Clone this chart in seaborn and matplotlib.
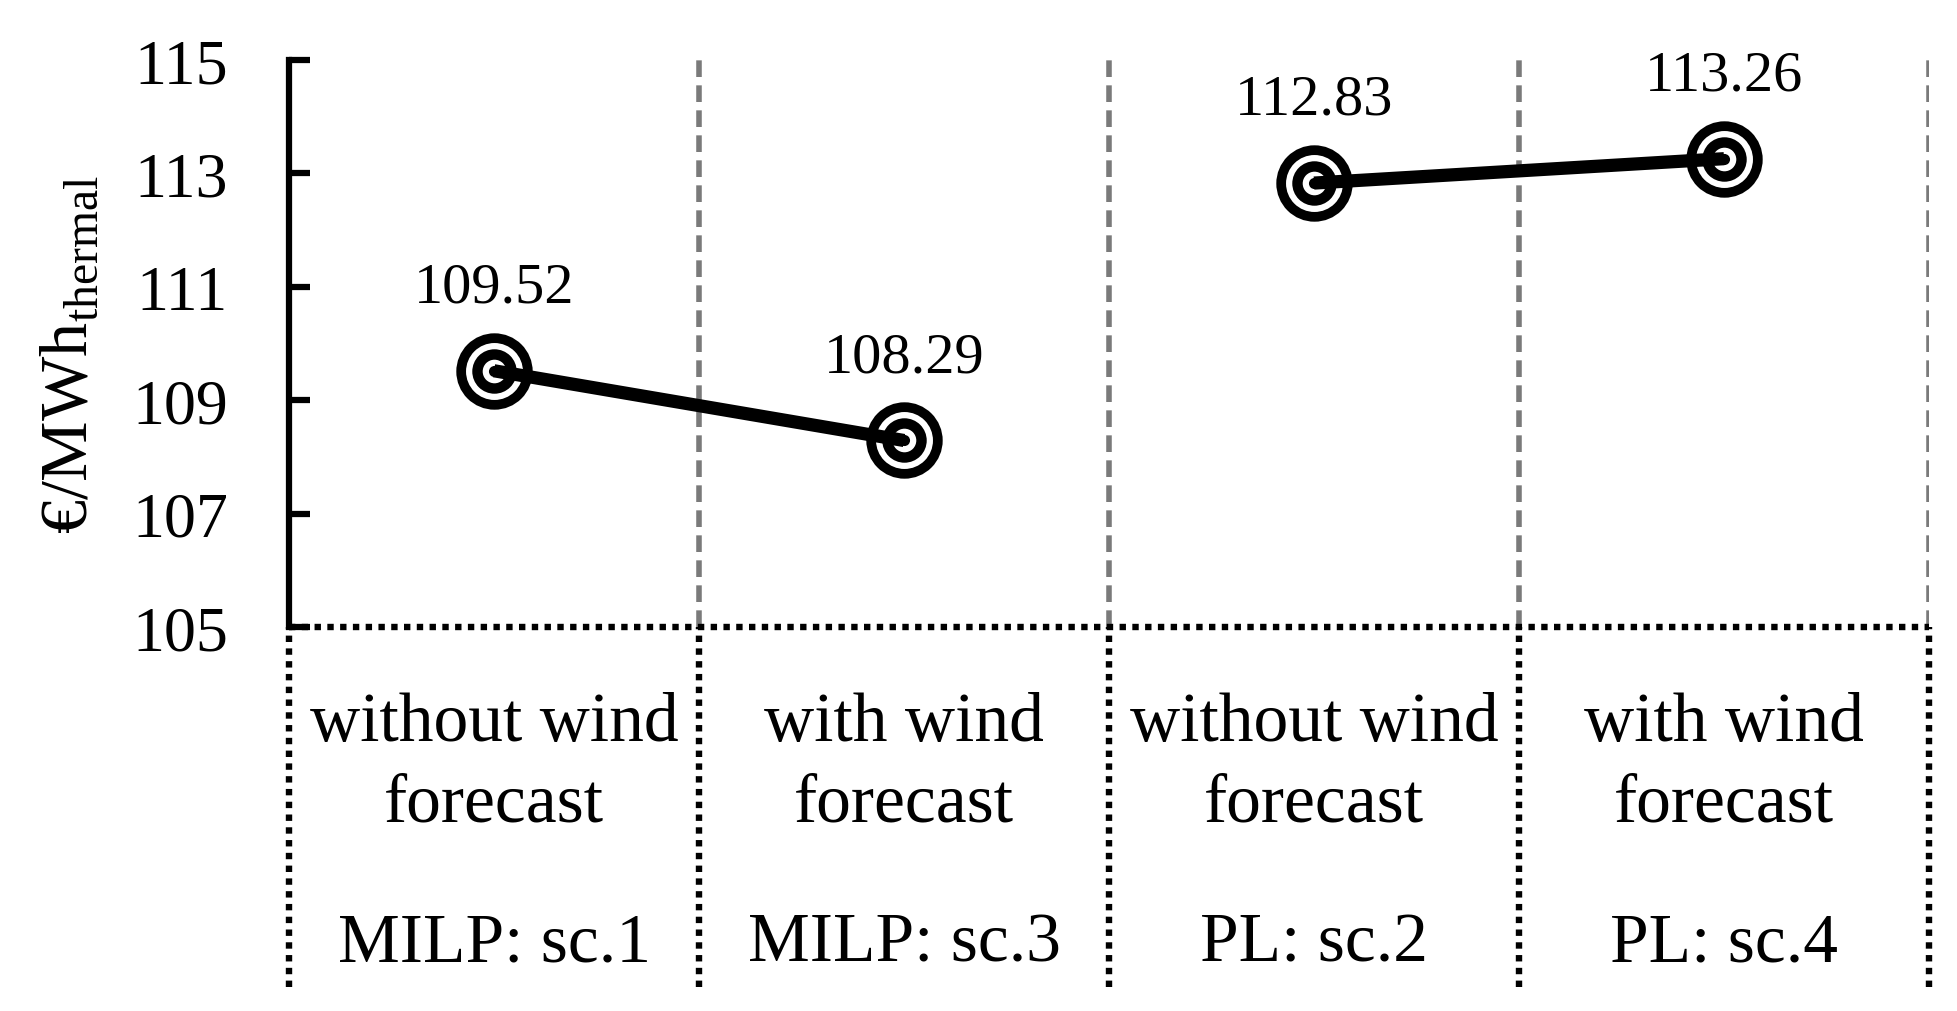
import numpy as np
import pandas as pd
import seaborn as sns
import matplotlib.pyplot as plt

# values
scenarios = ['without wind\nforecast', 'with wind\nforecast', 'without wind\nforecast', 'with wind\nforecast']
models = ['MILP: sc.1', 'MILP: sc.3', 'PL: sc.2', 'PL: sc.4']
groups = ['MILP', 'MILP', 'PL', 'PL']
cost = [109.52, 108.29, 112.83, 113.26]
yticks = [105, 107, 109, 111, 113, 115]

df = pd.DataFrame({'pos': np.arange(len(cost)), 'cost': cost, 'group': groups})

sns.set_style('white')
plt.rcParams['font.family'] = ['Liberation Serif', 'DejaVu Serif']
plt.rcParams['mathtext.fontset'] = 'custom'
plt.rcParams['mathtext.rm'] = 'Liberation Serif'
plt.rcParams['text.color'] = 'black'
plt.rcParams['ytick.color'] = 'black'
plt.rcParams['ytick.labelcolor'] = 'black'

fig = plt.figure(figsize=(19.58, 10.12), dpi=100)
ax = fig.add_axes([0.1476, 0.3794, 0.8376, 0.5603])

# target-style markers: rings of black and white
rings = [(55, 'black'), (41, 'white'), (32, 'black'), (17, 'white'), (8, 'black')]
for size, col in rings:
    sns.scatterplot(data=df, x='pos', y='cost', s=size ** 2, color=col,
                    linewidth=0, ax=ax, zorder=3)

# connecting lines per solver
sns.lineplot(data=df, x='pos', y='cost', units='group', estimator=None,
             color='black', lw=9.5, ax=ax, zorder=4, solid_capstyle='butt')

for x, v in zip(df['pos'], cost):
    ax.annotate(f'{v:.2f}', (x, v), xytext=(0, 60), textcoords='offset points',
                ha='center', va='center', fontsize=42)

ax.set_xlim(-0.5, len(cost) - 0.5)
ax.set_ylim(105, 115)
ax.set_yticks(yticks)
ax.set_xticks([])
ax.set_xlabel('')
ax.set_ylabel('')
ax.tick_params(axis='y', left=True, direction='in', length=15, width=4.5,
               pad=44, labelsize=46)

for side in ['top', 'right', 'bottom']:
    ax.spines[side].set_visible(False)
ax.spines['left'].set_linewidth(4.5)
ax.spines['left'].set_color('black')

# gray dashed separators inside the plot
bounds = np.arange(len(cost) + 1) - 0.5
ax.vlines(bounds[1:], 105, 115, colors='#7a7a7a', lw=4,
          linestyles=(0, (3, 1.5)), zorder=1)

# dotted table below the axis
ax.axhline(105, color='black', lw=4.6, ls=(0, (1, 1)), zorder=2,
           clip_on=False)
ax.vlines(bounds, 98.65, 105, colors='black', lw=4.6, linestyles=(0, (1, 1)),
          clip_on=False, zorder=2)

for x, sc, m in zip(df['pos'], scenarios, models):
    ax.text(x, 102.6, sc, ha='center', va='center', fontsize=50,
            linespacing=1.35, clip_on=False)
    ax.text(x, 99.42, m, ha='center', va='center', fontsize=50, clip_on=False)

fig.text(0.036, 0.650, r'€/MWh$_{\mathrm{thermal}}$', rotation=90,
         ha='center', va='center', fontsize=49)

fig.savefig('out.png', dpi=100)
